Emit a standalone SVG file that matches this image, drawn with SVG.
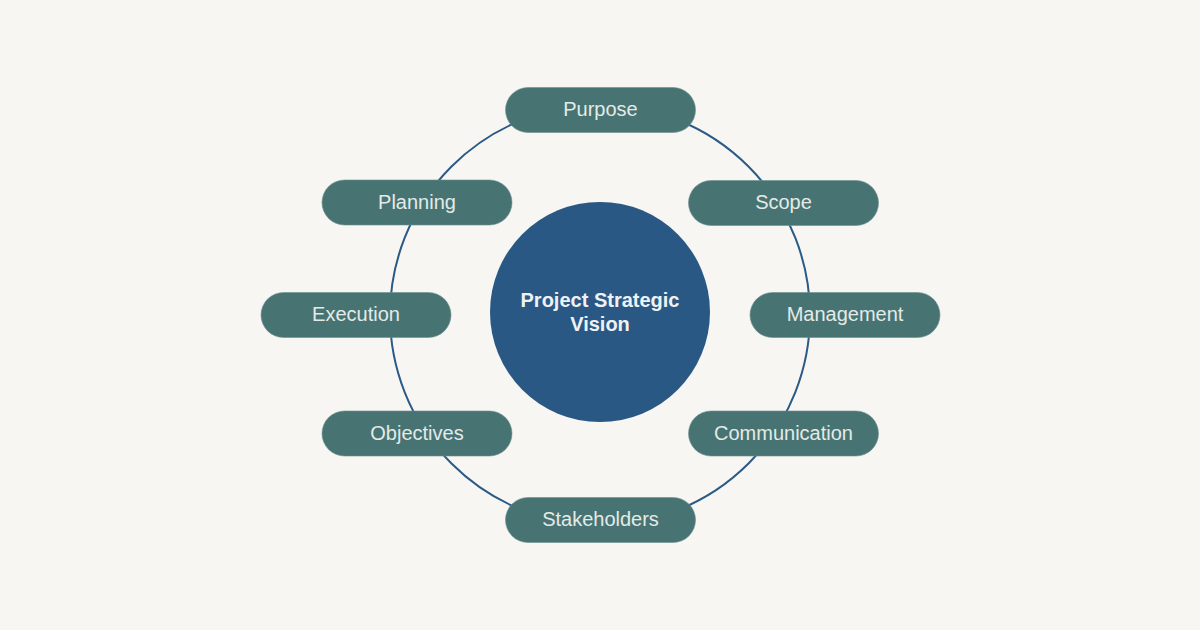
<svg xmlns="http://www.w3.org/2000/svg" width="1200" height="630" viewBox="0 0 1200 630">
<style>
.pill{fill:#477472;stroke:#6b8f8c;stroke-width:0.6}
.pt{font-family:"Liberation Sans",Arial,sans-serif;font-size:20px;fill:#e4eae8;text-anchor:middle;dominant-baseline:central}
.ct{font-family:"Liberation Sans",Arial,sans-serif;font-size:20px;font-weight:bold;fill:#eef2f5;text-anchor:middle}
</style>
<rect width="1200" height="630" fill="#f7f6f3"/>
<g id="connectors">
<circle cx="600" cy="315" r="210" fill="none" stroke="#2b5a86" stroke-width="2"/>
</g>
<g id="center">
<circle cx="600" cy="312" r="110" fill="#2a5884"/>
<text class="ct" x="600" y="307">Project Strategic</text>
<text class="ct" x="600" y="331">Vision</text>
</g>
<g id="purpose"><rect class="pill" x="505.5" y="87.5" width="190" height="45" rx="22.5"/><text class="pt" x="600.5" y="109">Purpose</text></g>
<g id="scope"><rect class="pill" x="688.5" y="180.5" width="190" height="45" rx="22.5"/><text class="pt" x="783.5" y="202">Scope</text></g>
<g id="management"><rect class="pill" x="750" y="292.5" width="190" height="45" rx="22.5"/><text class="pt" x="845" y="314">Management</text></g>
<g id="communication"><rect class="pill" x="688.5" y="411" width="190" height="45" rx="22.5"/><text class="pt" x="783.5" y="432.5">Communication</text></g>
<g id="stakeholders"><rect class="pill" x="505.5" y="497.5" width="190" height="45" rx="22.5"/><text class="pt" x="600.5" y="519">Stakeholders</text></g>
<g id="objectives"><rect class="pill" x="322" y="411" width="190" height="45" rx="22.5"/><text class="pt" x="417" y="432.5">Objectives</text></g>
<g id="execution"><rect class="pill" x="261" y="292.5" width="190" height="45" rx="22.5"/><text class="pt" x="356" y="314">Execution</text></g>
<g id="planning"><rect class="pill" x="322" y="180" width="190" height="45" rx="22.5"/><text class="pt" x="417" y="201.5">Planning</text></g>
</svg>
